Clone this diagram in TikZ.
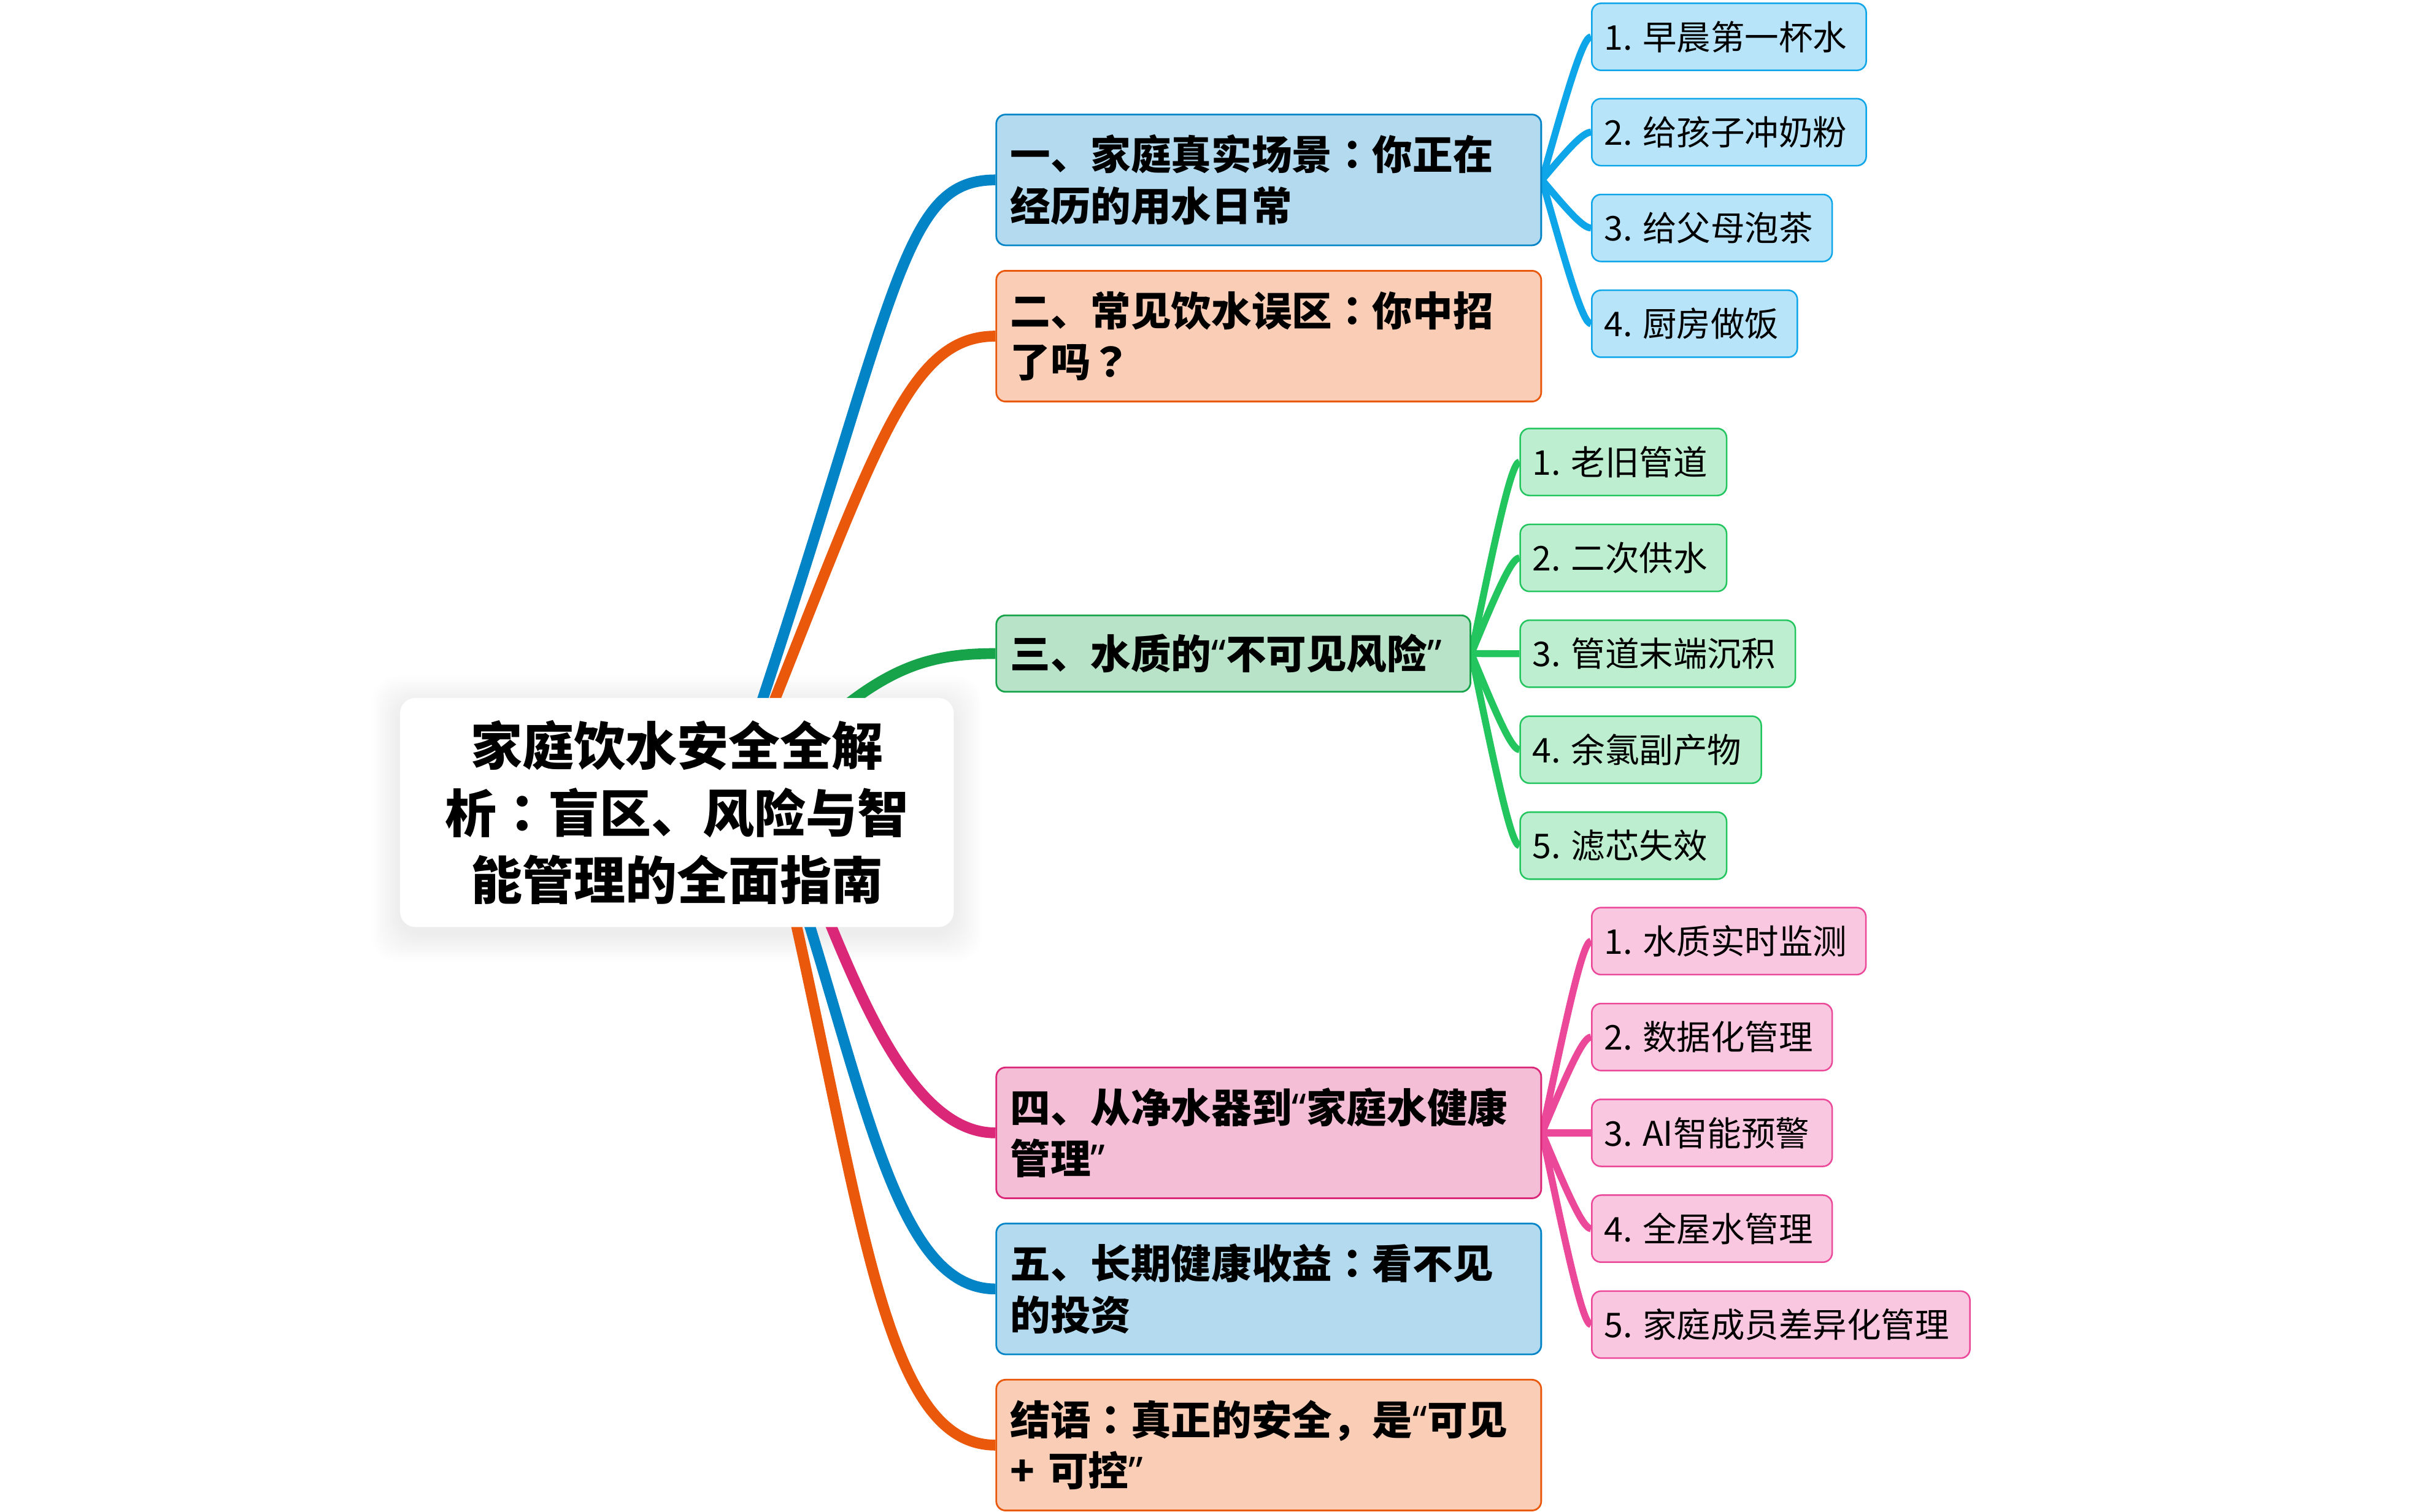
\documentclass[tikz,border=0pt]{standalone}
\usepackage{fontspec}
\setmainfont{Noto Sans CJK SC}
\newfontfamily\jpf{Noto Sans CJK JP}
\newfontfamily\latq{Noto Sans}
\newcommand{\myLQ}{{\latq “}}
\newcommand{\myRQ}{{\latq ”}}
\newcommand{\myCol}{{\jpf ：}}
\newcommand{\kt}[2]{\makebox[#1][l]{#2}}
\usetikzlibrary{calc}
\definecolor{skyD}{HTML}{0284C7}
\definecolor{orangeD}{HTML}{EA580C}
\definecolor{greenD}{HTML}{16A34A}
\definecolor{pinkD}{HTML}{DB2777}
\definecolor{skyL}{HTML}{0EA5E9}
\definecolor{greenL}{HTML}{22C55E}
\definecolor{pinkL}{HTML}{EC4899}
\pgfdeclarelayer{shadowl}
\pgfdeclarelayer{edgel}
\pgfsetlayers{shadowl,edgel,main}
\begin{document}
\begin{tikzpicture}[x=1pt,y=-1pt,
  rootbox/.style={fill=white, rounded corners=10pt, minimum width=357.7pt, minimum height=148pt,
    text width=340pt, align=center, inner sep=0pt, font=\fontsize{33.3}{43.5}\selectfont\bfseries},
  topic/.style={draw=#1, fill=#1!30, line width=1.1pt, rounded corners=6pt, anchor=west,
    text width=334pt, inner xsep=9pt, inner ysep=0pt, minimum height=84.5pt, align=left,
    font=\fontsize{26}{33}\selectfont\bfseries},
  kidbox/.style={draw=#1, fill=#1!30, line width=1pt, rounded corners=6pt, anchor=west,
    inner xsep=8pt, inner ysep=0pt, minimum height=43.3pt,
    font=\fontsize{22}{26}\selectfont},
  mainln/.style={draw=#1, line width=7pt, line join=round},
  kidln/.style={draw=#1, line width=4.5pt, line join=round,
    to path={let \p1=(\tikztostart), \p2=(\tikztotarget) in
      .. controls (\x1*0.45+\x2*0.55, \y1*0.33+\y2*0.67) and (\x2-5pt,\y2) .. (\tikztotarget)}}
]
\useasboundingbox (0,0) rectangle (1560,976.6);

% root
\node[rootbox] (root) at (437.25,525) {家庭饮水安全全解\\析\myCol 盲区、风险与智\\能管理的全面指南};

% level 1
\node[topic=skyD] (b1) at (643,116.25) {一、家庭真实场景\myCol 你正在\\经历的用水日常};
\node[topic=orangeD] (b2) at (643,217.2) {二、常见饮水误区\myCol 你中招\\了吗{\jpf ？}};
\node[topic=greenD, text width=288.3pt, minimum height=49.4pt] (b3) at (643,422.3) {三、水质的\myLQ 不可见风险\myRQ};
\node[topic=pinkD] (b4) at (643,732) {四、从净水器到\myLQ 家庭水健康\\管理\myRQ};
\node[topic=skyD] (b5) at (643,832.85) {五、长期健康收益\myCol 看不见\\的投资};
\node[topic=orangeD] (b6) at (643,933.75) {结语\myCol 真正的安全，是\myLQ 可见\\+ 可控\myRQ};

% blue kids
\node[kidbox=skyL] (c11) at (1027.7,23.8) {\kt{161.3pt}{1. 早晨第一杯水}};
\node[kidbox=skyL] (c12) at (1027.7,85.4) {\kt{161.3pt}{2. 给孩子冲奶粉}};
\node[kidbox=skyL] (c13) at (1027.7,147.3) {\kt{139.3pt}{3. 给父母泡茶}};
\node[kidbox=skyL] (c14) at (1027.7,209.2) {\kt{116.8pt}{4. 厨房做饭}};

% green kids
\node[kidbox=greenL] (g1) at (981.5,298.5) {\kt{117.3pt}{1. 老旧管道}};
\node[kidbox=greenL] (g2) at (981.5,360.5) {\kt{117.3pt}{2. 二次供水}};
\node[kidbox=greenL] (g3) at (981.5,422.4) {\kt{161.7pt}{3. 管道末端沉积}};
\node[kidbox=greenL] (g4) at (981.5,484.4) {\kt{139.7pt}{4. 余氯副产物}};
\node[kidbox=greenL] (g5) at (981.5,546.4) {\kt{117.3pt}{5. 滤芯失效}};

% pink kids
\node[kidbox=pinkL] (p1) at (1027.7,608.1) {\kt{161.1pt}{1. 水质实时监测}};
\node[kidbox=pinkL] (p2) at (1027.7,670.1) {\kt{139.3pt}{2. 数据化管理}};
\node[kidbox=pinkL] (p3) at (1027.7,732.0) {\kt{139.3pt}{3. AI智能预警}};
\node[kidbox=pinkL] (p4) at (1027.7,793.9) {\kt{139.3pt}{4. 全屋水管理}};
\node[kidbox=pinkL] (p5) at (1027.7,855.9) {\kt{228.3pt}{5. 家庭成员差异化管理}};

% root shadow
\begin{pgfonlayer}{shadowl}
\foreach \i in {1,...,18}{
  \fill[black, opacity=0.005, rounded corners=16pt]
    ($(root.north west)+(-\i,-\i+4)$) rectangle ($(root.south east)+(\i,\i+4)$);
}
\end{pgfonlayer}

% connectors
\begin{pgfonlayer}{edgel}
\coordinate (e1) at (488.9,463);
\coordinate (e2) at (496.1,463);
\coordinate (e3) at (537.4,463);
\coordinate (e4) at (532.2,587);
\coordinate (e5) at (519.6,587);
\coordinate (e6) at (512,587);
\draw[mainln=skyD] (root.center) -- (e1) .. controls ($(e1)+(92,-278)$) and ($(b1.west)+(-60,0)$) .. (b1.west);
\draw[mainln=orangeD] (root.center) -- (e2) .. controls ($(e2)+(71,-178)$) and ($(b2.west)+(-55,0)$) .. (b2.west);
\draw[mainln=greenD] (root.center) -- (e3) .. controls ($(e3)+(39.5,-33)$) and ($(b3.west)+(-40,0)$) .. (b3.west);
\draw[mainln=pinkD] (root.center) -- (e4) .. controls ($(e4)+(27.8,68)$) and ($(b4.west)+(-50,0)$) .. (b4.west);
\draw[mainln=skyD] (root.center) -- (e5) .. controls ($(e5)+(42.8,138)$) and ($(b5.west)+(-60,0)$) .. (b5.west);
\draw[mainln=orangeD] (root.center) -- (e6) .. controls ($(e6)+(46.8,208)$) and ($(b6.west)+(-70,0)$) .. (b6.west);

\foreach \k in {c11,c12,c13,c14}{ \draw[kidln=skyL] (b1.east) to (\k.west); }
\foreach \k in {g1,g2,g3,g4,g5}{ \draw[kidln=greenL] (b3.east) to (\k.west); }
\foreach \k in {p1,p2,p3,p4,p5}{ \draw[kidln=pinkL] (b4.east) to (\k.west); }
\end{pgfonlayer}
\end{tikzpicture}
\end{document}
